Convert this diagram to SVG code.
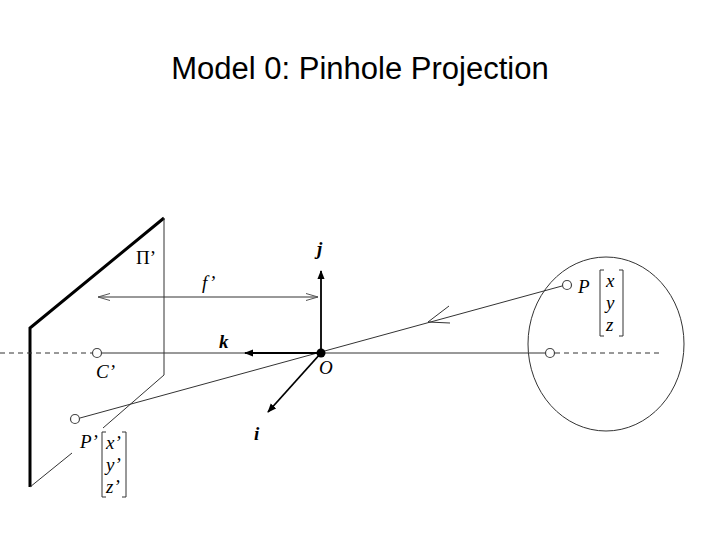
<svg xmlns="http://www.w3.org/2000/svg" width="720" height="540" viewBox="0 0 720 540">
<defs>
<marker id="ah" viewBox="0 0 10 10" refX="9" refY="5" markerWidth="9" markerHeight="9" orient="auto" markerUnits="userSpaceOnUse"><path d="M0,1 L10,5 L0,9 Z" fill="#000"/></marker>
<marker id="oh" viewBox="0 0 12 8" refX="12" refY="4" markerWidth="12" markerHeight="8" orient="auto-start-reverse" markerUnits="userSpaceOnUse"><path d="M0,0.5 L12,4 L0,7.5" fill="none" stroke="#555" stroke-width="1"/></marker>
</defs>
<style>
.t{font-family:"Liberation Serif",serif;font-style:italic;font-size:19px;fill:#000}
.thin{stroke:#333;stroke-width:1;fill:none}
.pt{fill:#fff;stroke:#444;stroke-width:1.2}
</style>
<rect width="720" height="540" fill="#fff"/>
<text x="360" y="79" text-anchor="middle" font-family="Liberation Sans, Arial, sans-serif" font-size="31">Model 0: Pinhole Projection</text>
<g id="plane">
<path d="M30,487 L30,328 L164,218" fill="none" stroke="#000" stroke-width="3"/>
<path class="thin" d="M164,218 L164,375 L103,428 M72,453 L30,487"/>
<text x="136" y="264" font-family="Liberation Serif, serif" font-size="19">Π’</text>
</g>
<g id="connectors">
<path class="thin" d="M0,353 L92,353" stroke-dasharray="5,4"/>
<path class="thin" d="M102,353 L545,353"/>
<path class="thin" d="M555,353 L660,353" stroke-dasharray="5,4"/>
<path class="thin" d="M98,297 L318,297" marker-start="url(#oh)" marker-end="url(#oh)"/>
<path class="thin" d="M562,286 L80,418"/>
<path class="thin" d="M449,306 L428,322 L450,323"/>
<path d="M321,353 L321,271" stroke="#000" stroke-width="1.8" marker-end="url(#ah)"/>
<path d="M321,353 L245,353" stroke="#000" stroke-width="1.8" marker-end="url(#ah)"/>
<path d="M321,353 L268,412" stroke="#000" stroke-width="1.8" marker-end="url(#ah)"/>
</g>
<g id="O"><circle cx="321" cy="353" r="4.5" fill="#000"/><text class="t" x="319" y="374">O</text></g>
<g id="j"><text class="t" x="317" y="255" font-weight="bold">j</text></g>
<g id="k"><text class="t" x="219" y="348" font-weight="bold">k</text></g>
<g id="i"><text class="t" x="254" y="440" font-weight="bold">i</text></g>
<g id="fprime"><text class="t" x="202" y="289">f’</text></g>
<g id="Cprime"><circle class="pt" cx="97" cy="353" r="4.5"/><text class="t" x="96" y="378">C’</text></g>
<g id="Pprime">
<circle class="pt" cx="75" cy="419" r="4.5"/>
<text class="t" x="80" y="448">P’</text>
<path class="thin" d="M106,432 L102,432 L102,497 L106,497 M122,432 L126,432 L126,497 L122,497"/>
<text class="t" x="106" y="449">x’</text><text class="t" x="106" y="471">y’</text><text class="t" x="106" y="493">z’</text>
</g>
<g id="object">
<ellipse class="thin" cx="606" cy="344" rx="78" ry="87"/>
<circle class="pt" cx="550" cy="353" r="4.5"/>
<circle class="pt" cx="567" cy="285" r="4.5"/>
<text class="t" x="578" y="293">P</text>
<path class="thin" d="M604,270 L600,270 L600,336 L604,336 M619,270 L623,270 L623,336 L619,336"/>
<text class="t" x="606" y="287">x</text><text class="t" x="606" y="309">y</text><text class="t" x="606" y="331">z</text>
</g>
</svg>
